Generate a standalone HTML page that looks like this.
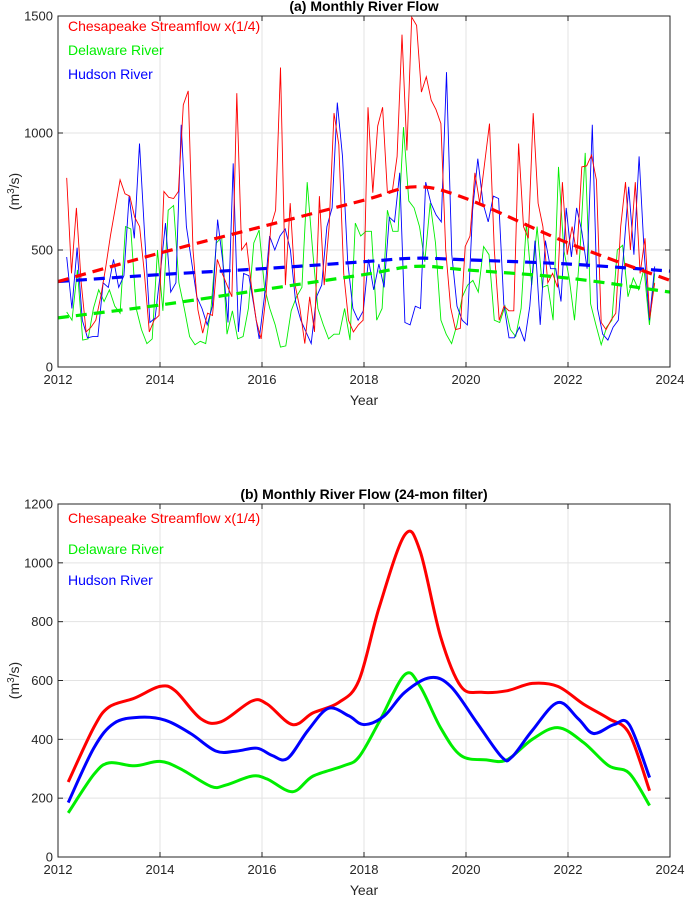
<!DOCTYPE html>
<html><head><meta charset="utf-8"><style>
html,body{margin:0;padding:0;background:#fff;}
svg{display:block;font-family:"Liberation Sans",Arial,sans-serif;}
</style></head><body>
<svg id="chart" width="685" height="897" viewBox="0 0 685 897" xmlns="http://www.w3.org/2000/svg"></svg>
<script>
// ---- Panel (a) data: monthly values spanning 2012.17 to 2023.7
const monthlyStart = 2012.17;
const monthlyEnd = 2023.7;
const chesapeakeMonthly = [808,400,680,360,150,170,200,300,420,560,680,800,740,730,640,600,400,150,200,220,750,725,720,750,1120,1180,500,245,145,230,220,460,400,350,300,1170,500,530,350,200,120,300,600,670,1280,350,700,350,250,100,300,150,730,350,600,1085,950,400,200,150,180,200,1110,745,1030,1110,745,750,900,1420,925,1495,1460,1175,1240,1140,1100,1040,500,255,160,165,515,560,830,700,870,1040,500,200,260,240,240,955,600,550,1085,700,600,360,400,340,790,480,600,480,855,860,905,800,190,160,200,230,600,790,500,790,400,550,210,360];
const delawareMonthly = [235,200,415,115,120,250,330,280,330,260,230,600,590,250,160,100,120,500,240,670,690,360,250,130,95,110,100,250,530,555,140,240,120,130,250,530,585,340,250,180,85,90,240,300,340,790,500,250,180,120,140,140,250,115,615,560,580,580,200,250,670,580,580,1025,710,680,600,450,700,530,200,140,100,180,300,350,370,320,515,480,200,190,260,160,130,250,615,350,600,340,350,200,855,500,380,200,490,915,270,180,95,170,200,500,520,300,380,330,420,180,400];
const hudsonMonthly = [470,250,510,200,125,130,130,360,340,460,340,390,730,550,955,560,190,210,400,615,320,360,1035,600,450,300,250,180,260,630,450,190,870,150,400,390,260,120,300,560,500,560,590,500,280,200,150,100,300,350,600,680,1130,900,450,250,200,240,460,330,440,340,640,620,830,190,180,260,250,790,700,650,620,1260,480,260,200,180,670,890,700,620,730,720,270,125,125,170,110,260,540,180,540,420,420,280,680,470,680,580,420,1035,250,140,115,170,200,480,770,480,900,480,200,430];
// ---- Panel (a) trend lines (year, value)
const trendYears = [2012,2014,2016,2018,2019,2020,2022,2024];
const chesapeakeTrend = [365,487,600,713,770,720,530,370];
const hudsonTrend = [365,395,420,450,465,458,440,410];
const delawareTrend = [210,265,330,395,430,415,380,320];
// ---- Panel (b) data: 24-month filtered
const chesYearsB = [2012.2,2012.7,2013.0,2013.5,2014.0,2014.3,2014.8,2015.2,2015.8,2016.1,2016.6,2017.0,2017.5,2017.9,2018.3,2018.8,2019.1,2019.5,2019.9,2020.3,2020.8,2021.3,2021.8,2022.3,2022.8,2023.2,2023.6];
const chesFiltered = [255,440,510,540,580,565,470,460,530,520,450,490,525,600,850,1095,1040,750,580,560,565,590,580,520,470,420,225];
const delYearsB = [2012.2,2012.7,2013.0,2013.5,2014.0,2014.4,2015.0,2015.3,2015.8,2016.1,2016.6,2017.0,2017.6,2017.9,2018.3,2018.8,2019.1,2019.5,2019.9,2020.4,2020.8,2021.3,2021.8,2022.3,2022.8,2023.2,2023.6];
const delFiltered = [150,280,320,310,325,300,240,245,275,265,222,275,310,340,460,620,580,440,345,330,330,400,440,390,310,285,175];
const hudYearsB = [2012.2,2012.7,2013.1,2013.6,2014.1,2014.6,2015.1,2015.5,2015.9,2016.2,2016.5,2016.9,2017.3,2017.7,2018.0,2018.4,2018.8,2019.3,2019.7,2020.2,2020.7,2020.9,2021.3,2021.8,2022.2,2022.5,2022.9,2023.2,2023.6];
const hudFiltered = [185,370,455,475,465,420,360,360,370,345,335,430,505,480,450,480,560,610,580,460,340,340,430,525,470,420,450,450,270];
const xTicks = [2012,2014,2016,2018,2020,2022,2024];
const yTicksA = [0,500,1000,1500];
const yTicksB = [0,200,400,600,800,1000,1200];

const NS='http://www.w3.org/2000/svg';
const svg=document.getElementById('chart');
function mk(tag,attrs,parent){const e=document.createElementNS(NS,tag);for(const k in attrs)e.setAttribute(k,attrs[k]);(parent||svg).appendChild(e);return e;}
const C={red:'#ff0000',green:'#00ee00',blue:'#0000ff'};

function panel(cfg){
  const g=mk('g',{});
  
  
  const X=v=>cfg.l+(v-2012)/12*(cfg.r-cfg.l);
  const Y=v=>cfg.b-(v/cfg.ymax)*(cfg.b-cfg.t);
  xTicks.forEach(t=>{const ln=mk('line',{x1:X(t),x2:X(t),y1:cfg.t,y2:cfg.b,stroke:'#e3e3e3','stroke-width':1},g);
    });
  cfg.yticks.forEach(t=>{const ln=mk('line',{x1:cfg.l,x2:cfg.r,y1:Y(t),y2:Y(t),stroke:'#e3e3e3','stroke-width':1},g);
    });
  cfg.draw(g,X,Y);
  const box=mk('rect',{x:cfg.l,y:cfg.t,width:cfg.r-cfg.l,height:cfg.b-cfg.t,fill:'none',stroke:'#262626','stroke-width':1},g);
  
  xTicks.forEach(t=>{
    mk('line',{x1:X(t),x2:X(t),y1:cfg.b,y2:cfg.b-5,stroke:'#262626'},g);
    mk('line',{x1:X(t),x2:X(t),y1:cfg.t,y2:cfg.t+5,stroke:'#262626'},g);
    const tx=mk('text',{x:X(t),y:cfg.b+17,'text-anchor':'middle','font-size':13,fill:'#262626'},g);tx.textContent=t;
    });
  cfg.yticks.forEach(t=>{
    mk('line',{x1:cfg.l,x2:cfg.l+5,y1:Y(t),y2:Y(t),stroke:'#262626'},g);
    mk('line',{x1:cfg.r,x2:cfg.r-5,y1:Y(t),y2:Y(t),stroke:'#262626'},g);
    const tx=mk('text',{x:cfg.l-5,y:Y(t)+4.5,'text-anchor':'end','font-size':13,fill:'#262626'},g);tx.textContent=t;
    });
  const xl=mk('text',{x:(cfg.l+cfg.r)/2,y:cfg.b+38,'text-anchor':'middle','font-size':14,fill:'#262626'},g);xl.textContent='Year';
  
  const yl=mk('text',{x:0,y:0,'text-anchor':'middle','font-size':14,fill:'#262626',transform:`translate(19,${(cfg.t+cfg.b)/2}) rotate(-90)`},g);
  yl.innerHTML='(m<tspan dy="-5" font-size="10">3</tspan><tspan dy="5">/s)</tspan>';
  
  const ti=mk('text',{x:(cfg.l+cfg.r)/2,y:cfg.t-5,'text-anchor':'middle','font-size':14,'font-weight':'bold',fill:'#000'},g);ti.textContent=cfg.title;
  
  const names=['Chesapeake Streamflow x(1/4)','Delaware River','Hudson River'],cols=[C.red,C.green,C.blue];
  names.forEach((n,i)=>{const tx=mk('text',{x:cfg.l+10,y:cfg.legY+i*cfg.legDy,'font-size':14,fill:cols[i]},g);tx.textContent=n;
    });
}
function polyPts(vals,X,Y){const step=(monthlyEnd-monthlyStart)/(vals.length-1);
  return vals.map((v,i)=>X(monthlyStart+i*step).toFixed(1)+','+Y(v).toFixed(1)).join(' ');}
function smooth(xs,ys,X,Y){const p=xs.map((x,i)=>[X(x),Y(ys[i])]);let d='M'+p[0][0]+','+p[0][1];
  for(let i=0;i<p.length-1;i++){const p0=p[Math.max(0,i-1)],p1=p[i],p2=p[i+1],p3=p[Math.min(p.length-1,i+2)];
    const c1=[p1[0]+(p2[0]-p0[0])/6,p1[1]+(p2[1]-p0[1])/6],c2=[p2[0]-(p3[0]-p1[0])/6,p2[1]-(p3[1]-p1[1])/6];
    d+=` C${c1[0].toFixed(1)},${c1[1].toFixed(1)} ${c2[0].toFixed(1)},${c2[1].toFixed(1)} ${p2[0].toFixed(1)},${p2[1].toFixed(1)}`;}return d;}

panel({name:'panel-a-monthly-flow',l:58,r:670,t:16,b:367,ymax:1500,yticks:yTicksA,title:'(a) Monthly River Flow',legY:31,legDy:24,
  draw:(g,X,Y)=>{
    [[delawareMonthly,C.green,'delaware-monthly-line'],[hudsonMonthly,C.blue,'hudson-monthly-line'],[chesapeakeMonthly,C.red,'chesapeake-monthly-line']].forEach(s=>{
      const pl=mk('polyline',{points:polyPts(s[0],X,Y),fill:'none',stroke:s[1],'stroke-width':0.9},g);
      });
    [[delawareTrend,C.green,'delaware-trend-line'],[hudsonTrend,C.blue,'hudson-trend-line'],[chesapeakeTrend,C.red,'chesapeake-trend-line']].forEach(s=>{
      const p=mk('path',{d:smooth(trendYears,s[0],X,Y),fill:'none',stroke:s[1],'stroke-width':3.2,'stroke-dasharray':'11,7'},g);
      });
  }});
panel({name:'panel-b-filtered-flow',l:58,r:670,t:504,b:857,ymax:1200,yticks:yTicksB,title:'(b) Monthly River Flow (24-mon filter)',legY:523,legDy:31,
  draw:(g,X,Y)=>{
    [[delYearsB,delFiltered,C.green,'delaware-filtered-line'],[chesYearsB,chesFiltered,C.red,'chesapeake-filtered-line'],[hudYearsB,hudFiltered,C.blue,'hudson-filtered-line']].forEach(s=>{
      const p=mk('path',{d:smooth(s[0],s[1],X,Y),fill:'none',stroke:s[2],'stroke-width':3},g);
      });
  }});
</script>
</body></html>
